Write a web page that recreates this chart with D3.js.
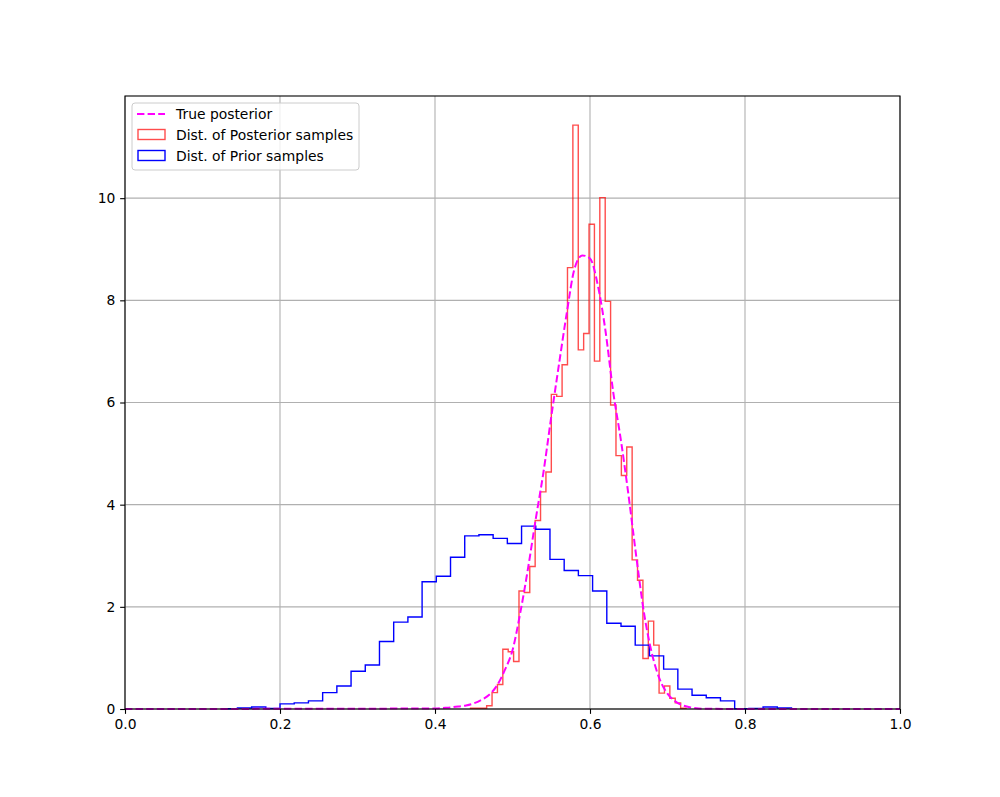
<!DOCTYPE html>
<html><head><meta charset="utf-8">
<script src="https://cdn.jsdelivr.net/npm/d3@7"></script>
<style>body{margin:0;background:#fff}svg{display:block}text{font-family:"DejaVu Sans",sans-serif;font-size:13.89px;fill:#000}</style>
</head><body>
<script>
// ---- data ----
const xTicks = [0.0, 0.2, 0.4, 0.6, 0.8, 1.0];
const yTicks = [0, 2, 4, 6, 8, 10];
const legendLabels = ["True posterior", "Dist. of Posterior samples", "Dist. of Prior samples"];

// prior samples histogram (density), 40 bins
const priorStart = 0.1267, priorEnd = 0.86;
const priorDensity = [0.005,0.02,0.04,0.01,0.10,0.12,0.16,0.32,0.45,0.74,
  0.86,1.32,1.70,1.80,2.49,2.60,2.97,3.39,3.41,3.34,
  3.24,3.58,3.52,2.93,2.71,2.61,2.31,1.68,1.62,1.25,
  1.04,0.78,0.39,0.27,0.22,0.16,0.005,0.01,0.04,0.02];

// posterior samples histogram (density), 40 bins
const postStart = 0.4458, postEnd = 0.7239;
const postDensity = [0.014,0.014,0.014,0.065,0.32,0.48,1.17,1.12,0.93,2.31,
  2.28,2.79,3.69,4.25,4.64,6.16,6.12,6.74,8.64,11.43,
  7.03,7.35,9.49,6.81,10.01,7.98,5.95,4.96,4.57,5.13,
  2.92,2.52,0.99,1.72,1.25,0.31,0.45,0.21,0.12,0.014];

// true posterior curve
const trueX = [0.0,0.40,0.41,0.42,0.43,0.44,0.45,0.46,0.47,0.48,0.49,0.50,0.51,0.52,0.53,0.54,0.55,0.56,0.57,0.58,0.59,0.60,0.61,0.62,0.63,0.64,0.65,0.66,0.67,0.68,0.69,0.70,0.71,0.72,0.73,0.74,0.75,0.80,1.0];
const trueY = [0.0,0.01,0.02,0.03,0.05,0.07,0.11,0.18,0.28,0.46,0.76,1.15,1.88,2.75,3.72,4.64,5.72,6.75,7.75,8.62,8.88,8.82,8.30,7.40,6.20,5.25,4.15,2.95,1.85,1.08,0.58,0.30,0.15,0.07,0.03,0.01,0.005,0.0,0.0];

// ---- drawing ----
const W = 1000, H = 797;
const m = {left:125, right:900, top:96, bottom:709};
const svg = d3.select("body").append("svg").attr("width", W).attr("height", H);
const x = d3.scaleLinear().domain([0, 1]).range([m.left, m.right]);
const y = d3.scaleLinear().domain([0, 12.0]).range([m.bottom, m.top]);

// grid
const g = svg.append("g");
g.selectAll(".gx").data(xTicks).join("line")
  .attr("x1", d => x(d)).attr("x2", d => x(d)).attr("y1", m.top).attr("y2", m.bottom)
  .attr("stroke", "#b0b0b0").attr("stroke-width", 1.1);
g.selectAll(".gy").data(yTicks).join("line")
  .attr("y1", d => y(d)).attr("y2", d => y(d)).attr("x1", m.left).attr("x2", m.right)
  .attr("stroke", "#b0b0b0").attr("stroke-width", 1.1);

function stepPoints(start, end, vals) {
  const n = vals.length, w = (end - start) / n;
  const pts = [[start, 0]];
  vals.forEach((v, i) => { pts.push([start + i * w, v]); pts.push([start + (i + 1) * w, v]); });
  pts.push([end, 0]);
  return pts;
}
const line = d3.line().x(d => x(d[0])).y(d => y(d[1]));

svg.append("path").attr("d", line(stepPoints(postStart, postEnd, postDensity)))
  .attr("fill", "none").attr("stroke", "red").attr("stroke-opacity", 0.7).attr("stroke-width", 1.4)
  .attr("stroke-linejoin", "miter");
svg.append("path").attr("d", line(stepPoints(priorStart, priorEnd, priorDensity)))
  .attr("fill", "none").attr("stroke", "blue").attr("stroke-width", 1.4).attr("stroke-linejoin", "miter");

const curve = d3.line().x(d => x(d[0])).y(d => y(d[1])).curve(d3.curveMonotoneX);
svg.append("path").attr("d", curve(trueX.map((v, i) => [v, trueY[i]])))
  .attr("fill", "none").attr("stroke", "#ff00ff").attr("stroke-width", 2)
  .attr("stroke-dasharray", "7.4,3.2");

// axes
const xa = svg.append("g").attr("transform", `translate(0,${m.bottom})`)
  .call(d3.axisBottom(x).tickValues(xTicks).tickFormat(d3.format(".1f")).tickSizeOuter(0).tickSize(4.86).tickPadding(4.86));
const ya = svg.append("g").attr("transform", `translate(${m.left},0)`)
  .call(d3.axisLeft(y).tickValues(yTicks).tickFormat(d3.format("d")).tickSizeOuter(0).tickSize(4.86).tickPadding(4.86));
[xa, ya].forEach(a => {
  a.select(".domain").remove();
  a.selectAll(".tick line").attr("stroke", "#000").attr("stroke-width", 1.1);
  a.selectAll("text").attr("font-family", "DejaVu Sans, sans-serif").attr("font-size", 13.89).attr("fill", "#000");
});
svg.append("rect").attr("x", m.left).attr("y", m.top).attr("width", m.right - m.left).attr("height", m.bottom - m.top)
  .attr("fill", "none").attr("stroke", "#000").attr("stroke-width", 1.1);

// legend
const lg = svg.append("g");
lg.append("rect").attr("x", 132).attr("y", 103).attr("width", 227).attr("height", 67).attr("rx", 3)
  .attr("fill", "#fff").attr("fill-opacity", 0.8).attr("stroke", "#cccccc").attr("stroke-width", 1);
lg.append("line").attr("x1", 137).attr("x2", 165).attr("y1", 114).attr("y2", 114)
  .attr("stroke", "#ff00ff").attr("stroke-width", 2).attr("stroke-dasharray", "7.4,3.2");
lg.append("rect").attr("x", 138).attr("y", 129.5).attr("width", 27).attr("height", 10)
  .attr("fill", "none").attr("stroke", "red").attr("stroke-opacity", 0.7).attr("stroke-width", 1.4);
lg.append("rect").attr("x", 138).attr("y", 150.5).attr("width", 27).attr("height", 10)
  .attr("fill", "none").attr("stroke", "blue").attr("stroke-width", 1.4);
legendLabels.forEach((t, i) => {
  lg.append("text").attr("x", 176).attr("y", 119 + i * 21).text(t);
});
</script>
</body></html>
